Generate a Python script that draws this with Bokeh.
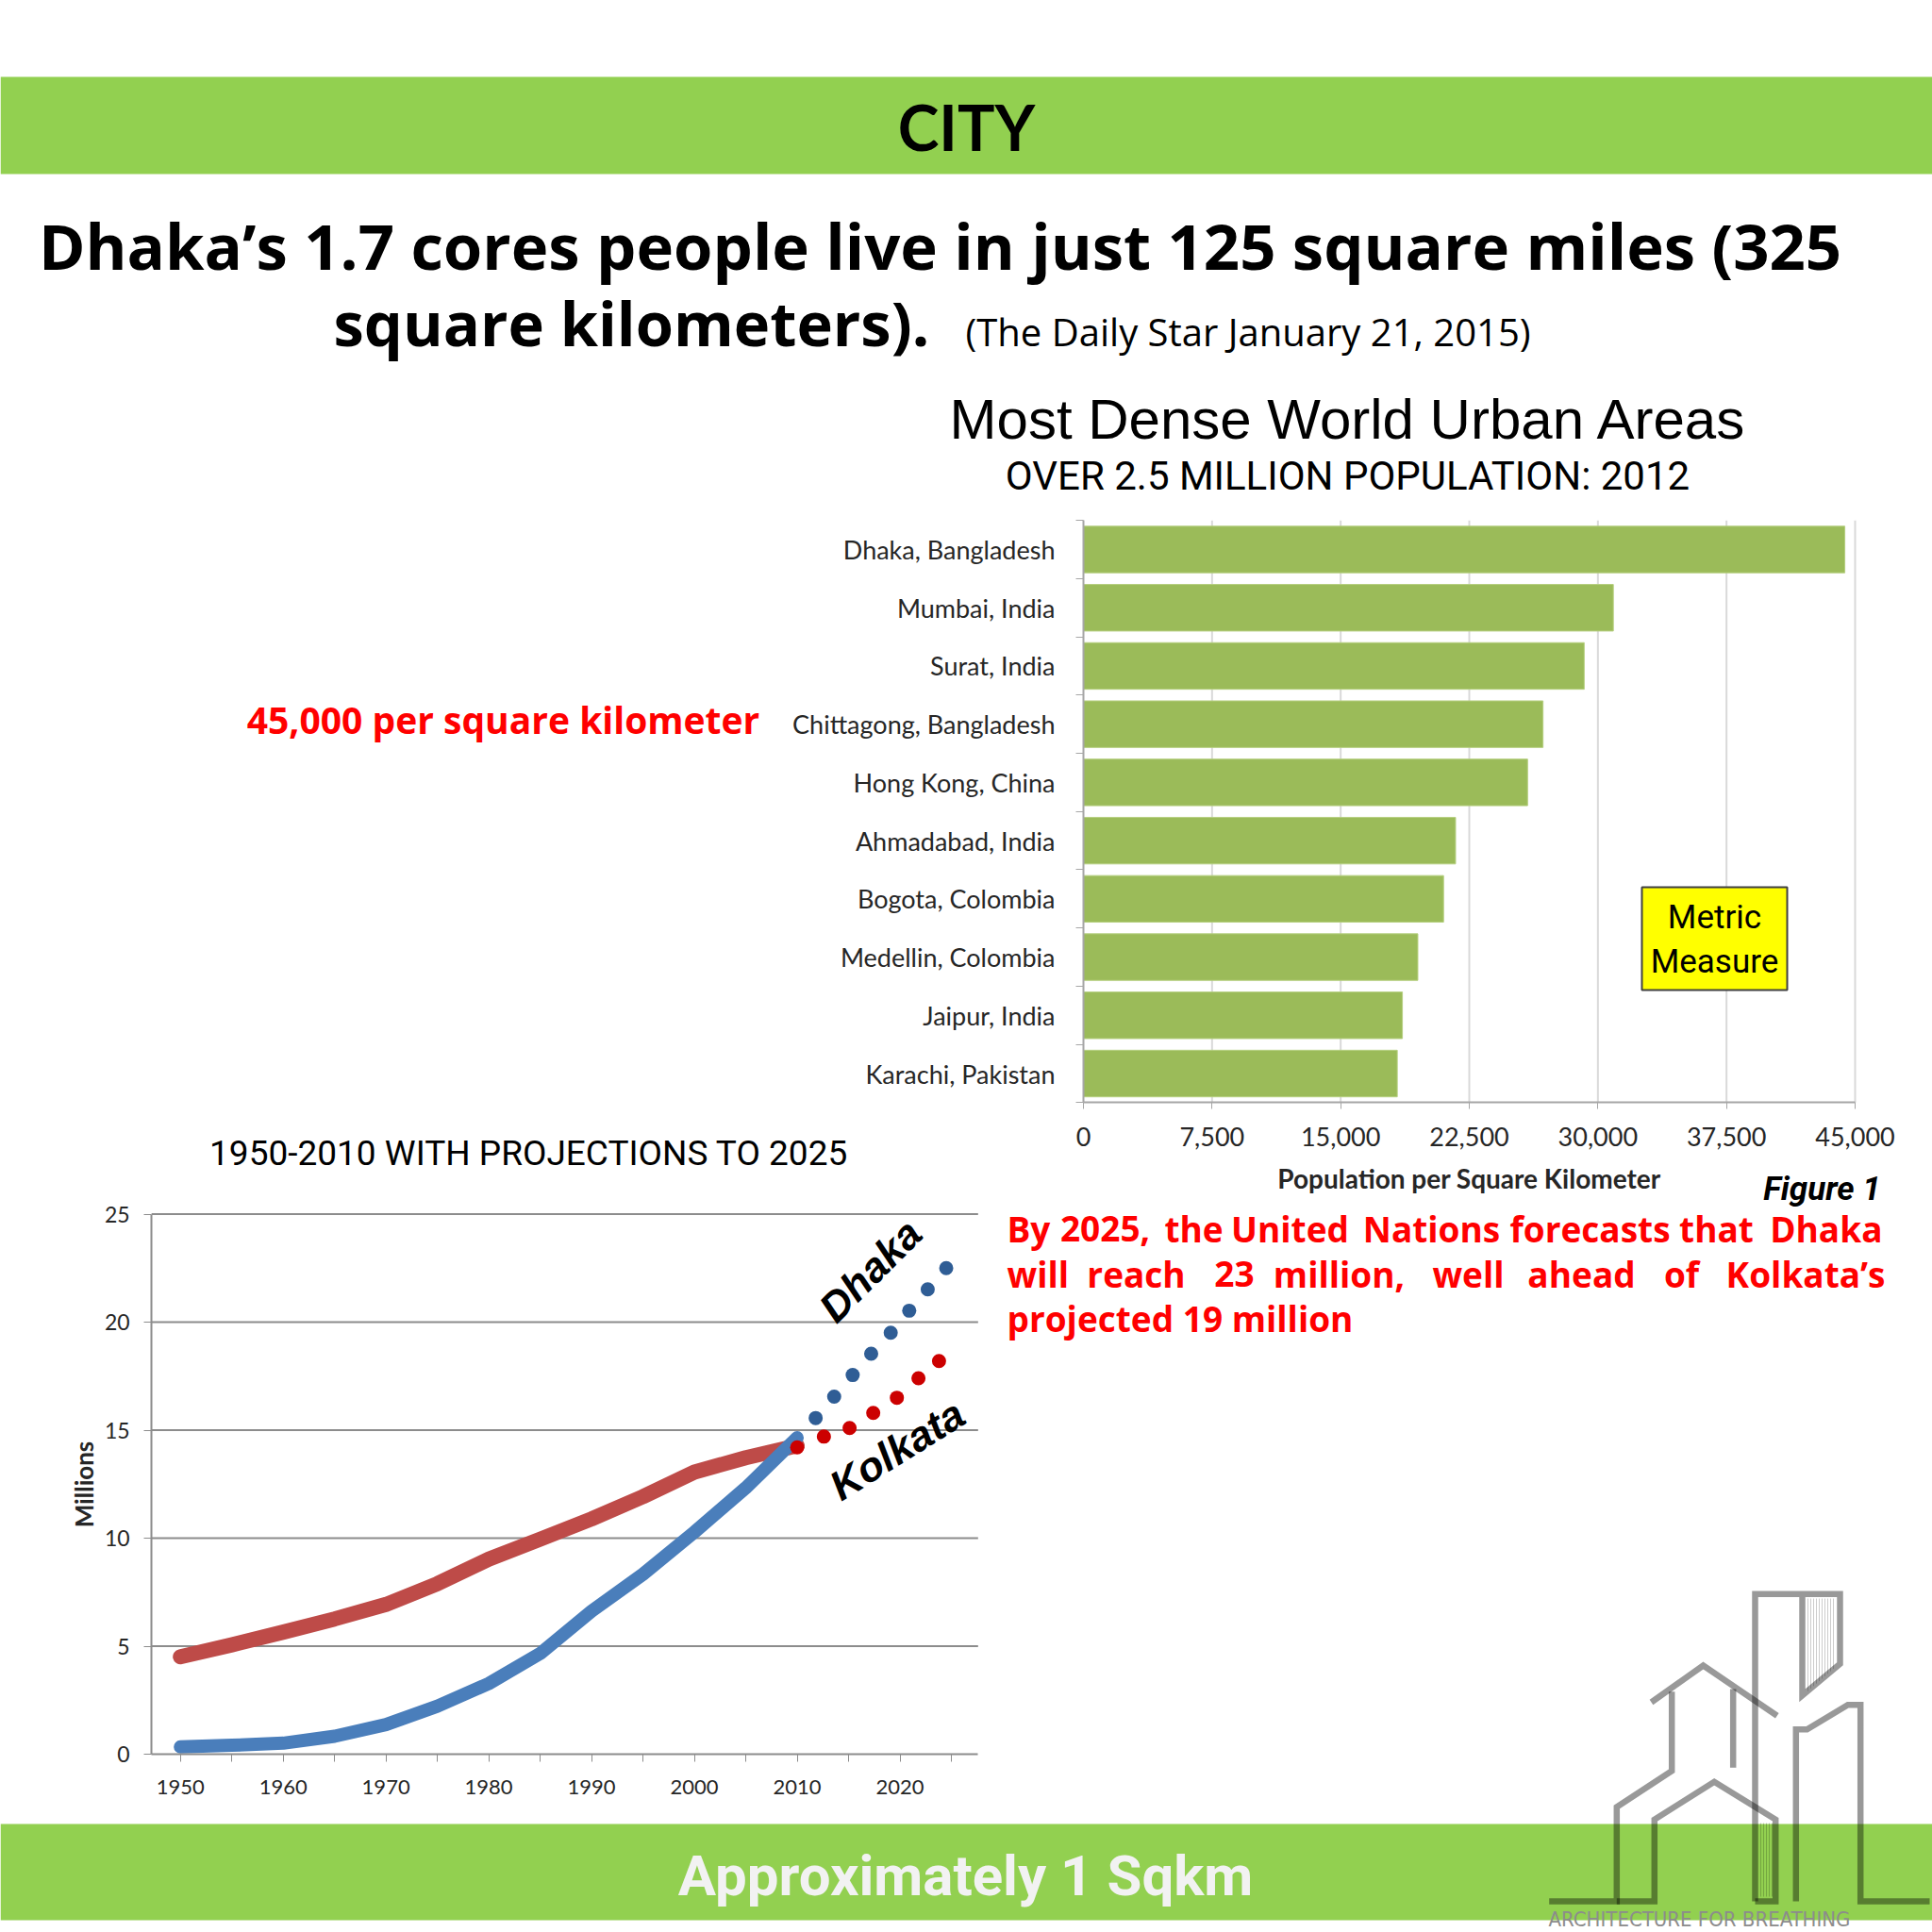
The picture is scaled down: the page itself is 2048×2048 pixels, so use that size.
from bokeh.plotting import figure
from bokeh.models import Range1d, LinearAxis, FixedTicker, NumeralTickFormatter
from bokeh.core.properties import value
from bokeh.embed import file_html
from bokeh.resources import INLINE

# ---------------- data ----------------
cities = ["Dhaka, Bangladesh", "Mumbai, India", "Surat, India", "Chittagong, Bangladesh",
          "Hong Kong, China", "Ahmadabad, India", "Bogota, Colombia", "Medellin, Colombia",
          "Jaipur, India", "Karachi, Pakistan"]
density = [44400, 30900, 29200, 26800, 25900, 21700, 21000, 19500, 18600, 18300]
density_ticks = [0, 7500, 15000, 22500, 30000, 37500, 45000]

years = [1950, 1955, 1960, 1965, 1970, 1975, 1980, 1985, 1990, 1995, 2000, 2005, 2010]
dhaka_pop = [0.34, 0.41, 0.51, 0.83, 1.37, 2.22, 3.27, 4.66, 6.62, 8.33, 10.28, 12.33, 14.65]
kolkata_pop = [4.51, 5.06, 5.65, 6.26, 6.93, 7.89, 9.03, 9.95, 10.89, 11.92, 13.06, 13.72, 14.28]
dhaka_proj_years = [2011.8, 2013.6, 2015.4, 2017.2, 2019.1, 2020.9, 2022.7, 2024.5]
dhaka_proj = [15.56, 16.55, 17.55, 18.54, 19.51, 20.53, 21.52, 22.5]
kolkata_proj_years = [2010.0, 2012.6, 2015.1, 2017.4, 2019.7, 2021.8, 2023.8]
kolkata_proj = [14.2, 14.7, 15.1, 15.8, 16.5, 17.4, 18.2]
year_ticks = [1950, 1960, 1970, 1980, 1990, 2000, 2010, 2020]
year_minor = [1955, 1965, 1975, 1985, 1995, 2005, 2015, 2025]
pop_ticks = [0, 5, 10, 15, 20, 25]

# ---------------- page ----------------
W = H = 2048
GREEN = "#92d050"
RED = "#ff0000"


def xr(px0, v0, px1, v1):
    k = (v1 - v0) / (px1 - px0)
    s = v0 - px0 * k
    return Range1d(start=s, end=s + W * k)


def yr(py0, v0, py1, v1):
    k = (v1 - v0) / (py1 - py0)
    return Range1d(start=v0 + (H - py0) * k, end=v0 - py0 * k)


p = figure(width=W, height=H, x_range=Range1d(0, W), y_range=Range1d(H, 0),
           output_backend="svg", toolbar_location=None, min_border=0,
           x_axis_type=None, y_axis_type=None, title=None)
p.outline_line_color = None
p.background_fill_color = "white"
p.border_fill_color = "white"

p.extra_x_ranges = {"bx": xr(1148, 0, 1966, 45000), "lx": xr(190.7, 1950, 953.5, 2020)}
p.extra_y_ranges = {"by": yr(582, 0, 1137.5, 9), "ly": yr(1859, 0, 1286.5, 25)}

# bands
p.quad(left=[0, 0], right=[W, W], top=[81, 1933], bottom=[184, 2035],
       fill_color=GREEN, line_color=None)


def txt(x, y, t, size, font="Open Sans", style="normal", color="black", align="center",
        baseline="middle", angle=0):
    p.text(x=[x], y=[y], text=[t], text_font=value(font), text_font_style=style,
           text_font_size=size, text_color=color, text_align=align,
           text_baseline=baseline, angle=angle)


txt(1024, 134, "CITY", "66px", font="Lato", style="bold")
txt(996, 259, "Dhaka\u2019s 1.7 cores people live in just 125 square miles (325", "67px", style="bold")
txt(353, 341, "square kilometers).", "65px", style="bold", align="left")
txt(1023, 351, "(The Daily Star January 21, 2015)", "40px", align="left")

# ---------------- bar chart ----------------
txt(1429, 444, "Most Dense World Urban Areas", "60px", font="Liberation Sans")
txt(1428, 504, "OVER 2.5 MILLION POPULATION: 2012", "42px", font="Roboto")
txt(533, 762, "45,000 per square kilometer", "39px", style="bold", color=RED)

idx = list(range(len(cities)))
p.segment(x0=density_ticks[1:], x1=density_ticks[1:], y0=-0.5, y1=9.5,
          x_range_name="bx", y_range_name="by", line_color="#d9d9d9", line_width=2)
p.hbar(y=idx, left=0, right=density, height=0.8, x_range_name="bx", y_range_name="by",
       fill_color="#9bbb59", line_color="#b5cf7f", line_width=1)

ay = LinearAxis(x_range_name="bx", y_range_name="by", fixed_location=0, bounds=(-0.5, 9.5),
                ticker=FixedTicker(ticks=idx, minor_ticks=[i - 0.5 for i in range(len(cities) + 1)]),
                major_label_overrides={i: c for i, c in enumerate(cities)})
ay.axis_line_color = "#a6a6a6"
ay.axis_line_width = 2
ay.major_tick_line_color = None
ay.major_tick_out = 0
ay.major_tick_in = 0
ay.minor_tick_line_color = "#a6a6a6"
ay.minor_tick_out = 8
ay.minor_tick_in = 0
ay.major_label_standoff = 22
ay.major_label_text_font = "Lato"
ay.major_label_text_font_size = "27px"
ay.major_label_text_color = "#262626"
p.add_layout(ay, "left")

ax = LinearAxis(x_range_name="bx", y_range_name="by", fixed_location=9.5, bounds=(0, 45000),
                ticker=FixedTicker(ticks=density_ticks), formatter=NumeralTickFormatter(format="0,0"),
                axis_label="Population per Square Kilometer")
ax.axis_line_color = "#a6a6a6"
ax.axis_line_width = 2
ax.major_tick_line_color = "#a6a6a6"
ax.major_tick_out = 7
ax.major_tick_in = 0
ax.minor_tick_line_color = None
ax.major_label_standoff = 19
ax.major_label_text_font = "Lato"
ax.major_label_text_font_size = "27px"
ax.major_label_text_color = "#262626"
ax.axis_label_text_font = "Lato"
ax.axis_label_text_font_style = "bold"
ax.axis_label_text_font_size = "28px"
ax.axis_label_text_color = "#262626"
ax.axis_label_standoff = 14
p.add_layout(ax, "below")

p.quad(left=[1740], right=[1894], top=[940], bottom=[1049], fill_color="#ffff00",
       line_color="#404040", line_width=2)
txt(1817, 972, "Metric", "35px", font="Roboto")
txt(1817, 1019, "Measure", "35px", font="Roboto")
txt(1931, 1260, "Figure 1", "35px", font="Roboto", style="bold italic")

# red paragraph (justified lines: first word left-aligned, last right-aligned, others centred)
line1 = [("By", 1067), ("2025,", 1171), ("the", 1265), ("United", 1367), ("Nations", 1517),
         ("forecasts", 1685), ("that", 1819), ("Dhaka", 1995)]
line2 = [("will", 1067), ("reach", 1204), ("23", 1308), ("million,", 1419), ("well", 1556),
         ("ahead", 1676), ("of", 1782), ("Kolkata\u2019s", 1998)]
for line, yy in ((line1, 1302), (line2, 1350)):
    for k, (w, x) in enumerate(line):
        al = "left" if k == 0 else ("right" if k == len(line) - 1 else "center")
        txt(x, yy, w, "37px", style="bold", color=RED, align=al)
txt(1067, 1397, "projected 19 million", "37px", style="bold", color=RED, align="left")

# ---------------- line chart ----------------
txt(560, 1222, "1950-2010 WITH PROJECTIONS TO 2025", "37px", font="Roboto")

p.segment(x0=1947.2, x1=2027.6, y0=pop_ticks[1:], y1=pop_ticks[1:],
          x_range_name="lx", y_range_name="ly", line_color="#8c8c8c", line_width=2)

p.line(years, kolkata_pop, x_range_name="lx", y_range_name="ly", line_color="#be4b48",
       line_width=16, line_cap="round", line_join="round")
p.line(years, dhaka_pop, x_range_name="lx", y_range_name="ly", line_color="#4a7ebb",
       line_width=14, line_cap="round", line_join="round")
p.scatter(dhaka_proj_years, dhaka_proj, x_range_name="lx", y_range_name="ly", size=15,
          fill_color="#2f5d95", line_color=None)
p.scatter(kolkata_proj_years, kolkata_proj, x_range_name="lx", y_range_name="ly", size=15,
          fill_color="#cc0000", line_color=None)

ly_ax = LinearAxis(x_range_name="lx", y_range_name="ly", fixed_location=1947.2, bounds=(0, 25),
                   ticker=FixedTicker(ticks=pop_ticks), axis_label="Millions")
ly_ax.axis_line_color = "#8c8c8c"
ly_ax.axis_line_width = 2
ly_ax.major_tick_line_color = "#8c8c8c"
ly_ax.major_tick_out = 8
ly_ax.major_tick_in = 0
ly_ax.minor_tick_line_color = None
ly_ax.major_label_standoff = 15
ly_ax.major_label_text_font = "Lato"
ly_ax.major_label_text_font_size = "23px"
ly_ax.major_label_text_color = "#262626"
ly_ax.axis_label_text_font = "Lato"
ly_ax.axis_label_text_font_style = "bold"
ly_ax.axis_label_text_font_size = "26px"
ly_ax.axis_label_text_color = "#262626"
ly_ax.axis_label_standoff = 3
p.add_layout(ly_ax, "left")

lx_ax = LinearAxis(x_range_name="lx", y_range_name="ly", fixed_location=0, bounds=(1947.2, 2027.6),
                   ticker=FixedTicker(ticks=year_ticks, minor_ticks=year_minor))
lx_ax.axis_line_color = "#8c8c8c"
lx_ax.axis_line_width = 2
lx_ax.major_tick_line_color = "#8c8c8c"
lx_ax.major_tick_out = 8
lx_ax.major_tick_in = 0
lx_ax.minor_tick_line_color = "#8c8c8c"
lx_ax.minor_tick_out = 8
lx_ax.minor_tick_in = 0
lx_ax.major_label_standoff = 19
lx_ax.major_label_text_font = "Lato"
lx_ax.major_label_text_font_size = "22px"
lx_ax.major_label_text_color = "#262626"
p.add_layout(lx_ax, "below")

p.text(x=[2017.1], y=[22.4], text=["Dhaka"], x_range_name="lx", y_range_name="ly",
       text_font=value("Liberation Sans"), text_font_style="bold italic", text_font_size="44px",
       text_align="center", text_baseline="middle", angle=0.785)
p.text(x=[2019.7], y=[14.1], text=["Kolkata"], x_range_name="lx", y_range_name="ly",
       text_font=value("Liberation Sans"), text_font_style="bold italic", text_font_size="44px",
       text_align="center", text_baseline="middle", angle=0.56)

# ---------------- bottom ----------------
txt(1023, 1988, "Approximately 1 Sqkm", "60px", font="Roboto", style="bold", color="#f2f2f2")

logo_xs = [[1641.7, 1713.3, 1713.3, 1771.7, 1771.7],
           [1750, 1805, 1883.3],
           [1836.7, 1836.7],
           [1713.3, 1753.3, 1753.3, 1816.7, 1881.7, 1881.7, 1860],
           [1860, 1860, 1950, 1950, 1910, 1910],
           [1903.3, 1903.3, 1915, 1958.3, 1971.7, 1971.7, 2045]]
logo_ys = [[2015, 2015, 1915, 1876.7, 1792.7],
           [1804, 1765, 1818.3],
           [1790, 1873.3],
           [2015, 2015, 1928.3, 1888.3, 1928.3, 2015, 2015],
           [2015, 1689.3, 1689.3, 1763.3, 1796.7, 1691.7],
           [2015, 1832.7, 1832.7, 1806.7, 1806.7, 2015, 2015]]
p.multi_line(xs=logo_xs, ys=logo_ys, line_color="black", line_alpha=0.4, line_width=6.5,
             line_join="miter")
hx = [1916 + 3 * i for i in range(10)]
p.segment(x0=hx, x1=hx, y0=1694, y1=[1792 - 2.6 * i for i in range(10)],
          line_color="black", line_alpha=0.2, line_width=1)
hx2 = [1866 + 3 * i for i in range(5)]
p.segment(x0=hx2, x1=hx2, y0=1932, y1=2010, line_color="black", line_alpha=0.2, line_width=1)
txt(1801, 2034, "ARCHITECTURE FOR BREATHING", "22px", font="DejaVu Sans Condensed",
    color="#8c8c8c")

open("out.html", "w").write(file_html(p, INLINE))
